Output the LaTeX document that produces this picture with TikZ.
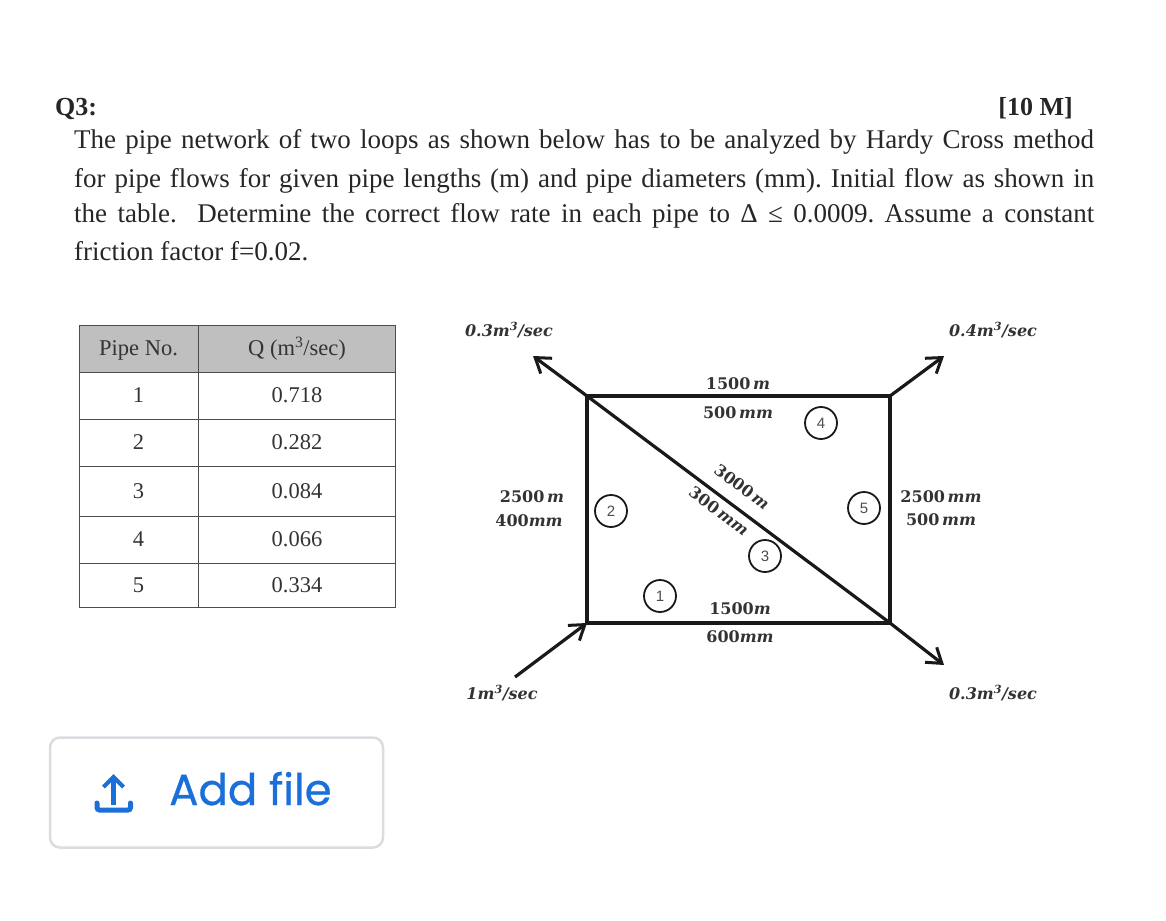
\documentclass[tikz,border=0pt]{standalone}
\usepackage{fontspec}
\setmainfont{Liberation Serif}
\newfontfamily\btnfont[FakeBold=0.6]{Poppins}
\newfontfamily\numfont{Liberation Sans}
\newfontfamily\dimfont{DejaVu Serif}
\usetikzlibrary{arrows.meta, positioning, calc}
\definecolor{btnblue}{HTML}{1A6FD8}
\definecolor{btnedge}{HTML}{DADCE0}
\definecolor{headgray}{HTML}{BFBFBF}
\definecolor{inkgray}{HTML}{333333}
\newcommand{\Body}[2]{\makebox[#1pt][s]{#2}}
\newcommand{\Flow}[1]{\textit{#1m\textsuperscript{3}/sec}}
\newcommand{\Len}[2]{#1\,\textit{#2}}
\frenchspacing
\tikzset{
    bodyline/.style={anchor=base west, inner sep=0pt, font=\fontsize{27}{29}\selectfont, text=black!85},
    cell/.style={draw=black!70, line width=1pt, inner sep=0pt, text height=17pt, text depth=3pt, font=\fontsize{22.5}{24}\selectfont, text=inkgray},
    pipe/.style={line width=3.2pt, black!90},
    flowarrow/.style={line width=3.2pt, black!90, -{Straight Barb[length=14pt,width=19pt,line width=3pt]}},
    dim/.style={inner sep=0pt, font=\dimfont\fontsize{16}{20}\selectfont\bfseries, text=black!80},
    tag/.style={circle, draw=black!90, line width=1.8pt, minimum size=32pt, inner sep=0pt, font=\numfont\fontsize{15}{16}\selectfont, text=black!70},
}
\begin{document}
\begin{tikzpicture}[x=1pt, y=-1pt]
    \useasboundingbox (0,0) rectangle (1166,920);

    % question text
    \node[bodyline, font=\fontsize{26}{28}\selectfont\bfseries] (qno) at (55,116) {Q3:};
    \node[bodyline, anchor=base east, font=\fontsize{26}{28}\selectfont\bfseries] (marks) at (1073,116) {[10 M]};
    \node[bodyline] (l1) at (74,149) {\Body{1020}{The pipe network of two loops as shown below has to be analyzed by Hardy Cross method}};
    \node[bodyline] (l2) at (74,187) {\Body{1020}{for pipe flows for given pipe lengths (m) and pipe diameters (mm). Initial flow as shown in}};
    \node[bodyline] (l3) at (74,222) {\Body{1020}{the table.\ \ Determine the correct flow rate in each pipe to Δ ≤ 0.0009. Assume a constant}};
    \node[bodyline] (l4) at (74,260) {friction factor f=0.02.};

    % table
    \node[cell, fill=headgray, minimum width=119pt, minimum height=47pt] (pipe0) at (138.5,348.5) {Pipe No.};
    \node[cell, fill=headgray, minimum width=197pt, minimum height=47pt] (flow0) at (297,348.5) {Q (m\textsuperscript{3}/sec)};
    \foreach \i/\q/\y/\h in {1/0.718/395.5/47, 2/0.282/442.5/47, 3/0.084/491/50, 4/0.066/539.5/47, 5/0.334/585/44} {
      \node[cell, minimum width=119pt, minimum height=\h pt] (pipe\i) at (138.5,\y) {\i};
      \node[cell, minimum width=197pt, minimum height=\h pt] (flow\i) at (297,\y) {\q};
    }

    % network
    \coordinate (tl) at (587,396);
    \coordinate (tr) at (890,396);
    \coordinate (br) at (890,623);
    \coordinate (bl) at (587,623);
    \coordinate (outa) at (533,356);
    \coordinate (outb) at (944,356);
    \coordinate (outc) at (944,665);
    \coordinate (ina) at (515,677);

    \draw[pipe] (tl) -- (tr) -- (br) -- (bl) -- cycle;
    \draw[pipe] (tl) -- (br);
    \draw[flowarrow] (tl) -- (outa);
    \draw[flowarrow] (tr) -- (outb);
    \draw[flowarrow] (br) -- (outc);
    \draw[flowarrow] (ina) -- (bl);

    \node[dim] (qa) at (509,330) {\Flow{0.3}};
    \node[dim] (qb) at (993,330) {\Flow{0.4}};
    \node[dim] (qc) at (993,693) {\Flow{0.3}};
    \node[dim] (qd) at (502,693) {\Flow{1}};

    \node[dim] (d4a) at (738,384) {\Len{1500}{m}};
    \node[dim] (d4b) at (738,413) {\Len{500}{mm}};
    \node[dim] (d2a) at (532,497) {\Len{2500}{m}};
    \node[dim] (d2b) at (529,521) {400\textit{mm}};
    \node[dim] (d5a) at (941,497) {\Len{2500}{mm}};
    \node[dim] (d5b) at (941,520) {\Len{500}{mm}};
    \node[dim] (d1a) at (740,609) {1500\textit{m}};
    \node[dim] (d1b) at (740,637) {600\textit{mm}};
    \node[dim, rotate=-36.8] (d3a) at (742,487) {\Len{3000}{m}};
    \node[dim, rotate=-36.8] (d3b) at (719,511) {\Len{300}{mm}};

    \node[tag] (n1) at (660,596) {1};
    \node[tag] (n2) at (611,511) {2};
    \node[tag] (n3) at (765,556) {3};
    \node[tag] (n4) at (821,423) {4};
    \node[tag] (n5) at (864,508) {5};

    % upload button
    \node[draw=btnedge, line width=2.5pt, rounded corners=10pt, minimum width=333pt, minimum height=110pt, inner sep=0pt] (btn) at (216.5,792.5) {};
    \node[anchor=base west, inner sep=0pt, text=btnblue, font=\btnfont\fontsize{43.5}{46}\selectfont] (btnlabel) at (169,805) {Add file};
    \coordinate (iconbase) at (113.5,805);
    \coordinate (icontip) at (113.5,777);
    \draw[btnblue, line width=4.2pt] (iconbase) -- (icontip);
    \draw[btnblue, line width=4.2pt] (103.5,787) -- (icontip) -- (123.5,787);
    \draw[btnblue, line width=5pt, line cap=round, rounded corners=2.5pt] (97,803) -- (97,810) -- (130.5,810) -- (130.5,803);
\end{tikzpicture}
\end{document}
